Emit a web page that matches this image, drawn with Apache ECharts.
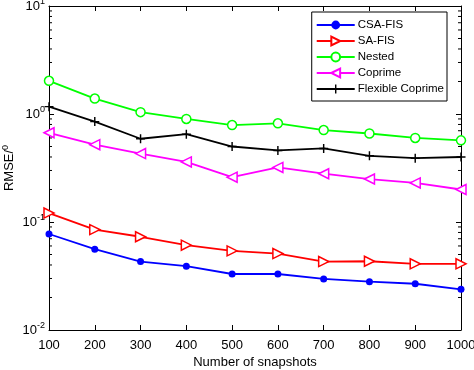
<!DOCTYPE html>
<html><head><meta charset="utf-8">
<script src="https://cdn.jsdelivr.net/npm/echarts@6/dist/echarts.min.js"></script>
<style>html,body{margin:0;padding:0;background:#fff}#c{width:474px;height:370px}</style>
</head><body><div id="c"></div>
<script>
var snapshots = [100,200,300,400,500,600,700,800,900,1000];
var csaFis = [0.0774,0.056,0.043,0.039,0.033,0.033,0.0297,0.028,0.0268,0.0238];
var saFis = [0.121,0.085,0.073,0.061,0.054,0.051,0.043,0.0433,0.041,0.041];
var nested = [2.03,1.39,1.04,0.90,0.79,0.82,0.71,0.66,0.60,0.57];
var coprime = [0.67,0.52,0.43,0.36,0.26,0.32,0.28,0.25,0.23,0.20];
var flexCoprime = [1.17,0.85,0.59,0.65,0.50,0.46,0.48,0.41,0.39,0.40];
var minorTickValues = [];
[0.01,0.1,1].forEach(function(d){for(var k=2;k<=9;k++)minorTickValues.push(+(d*k).toPrecision(3));});

function pairs(arr){return snapshots.map(function(x,i){return [x,arr[i]];});}
var font = 'Liberation Sans, Arial, sans-serif';
var chart = echarts.init(document.getElementById('c'));
function mk(name,data,color,symbol,size,rot,filled){
  return {name:name,type:'line',data:pairs(data),symbol:symbol,symbolSize:size,symbolRotate:rot||0,
    showAllSymbol:true,lineStyle:{color:color,width:1.8,type:'solid'},
    itemStyle:{color:filled?color:'#fff',borderColor:color,borderWidth:filled?0:1.5},
    z:3};
}
var plus='path://M4.2,0 H5.8 V4.2 H10 V5.8 H5.8 V10 H4.2 V5.8 H0 V4.2 H4.2 Z';
chart.setOption({
  animation:false,
  textStyle:{fontFamily:font},
  grid:{left:49,right:13,top:6,bottom:40,containLabel:false,outerBoundsMode:'none'},
  legend:{
    data:['CSA-FIS','SA-FIS','Nested','Coprime','Flexible Coprime'],
    orient:'vertical',right:27,top:12,itemWidth:38,itemHeight:11,itemGap:4,
    backgroundColor:'#fff',borderColor:'#000',borderWidth:1,borderRadius:0,padding:[7,3,6,4],
    textStyle:{fontSize:11.5,color:'#000',fontFamily:font,padding:[0,0,0,-2]}
  },
  xAxis:[{type:'value',min:100,max:1000,interval:100,
    name:'Number of snapshots',nameLocation:'middle',nameGap:26,nameMoveOverlap:false,
    nameTextStyle:{fontSize:13,color:'#000',fontFamily:font},
    axisLine:{lineStyle:{color:'#000',width:1}},
    axisTick:{inside:true,length:5,lineStyle:{color:'#000'}},
    axisLabel:{fontSize:13,color:'#000',margin:9,fontFamily:font,formatter:function(v){return String(v);}},
    splitLine:{show:false}},
   {type:'value',position:'top',min:100,max:1000,interval:100,
    axisLine:{lineStyle:{color:'#000'}},axisTick:{inside:true,length:5,lineStyle:{color:'#000'}},
    axisLabel:{show:false},splitLine:{show:false}}],
  yAxis:[{type:'log',logBase:10,min:0.01,max:10,
    name:'{a|RMSE/}{s|0}',nameLocation:'middle',nameGap:32,nameRotate:90,nameMoveOverlap:false,
    nameTextStyle:{fontSize:13,color:'#000',rich:{a:{fontSize:13,fontFamily:font,color:'#000'},s:{fontSize:9,fontFamily:font,color:'#000',padding:[0,0,7,0]}}},
    axisLine:{lineStyle:{color:'#000'}},
    axisTick:{inside:true,length:5,lineStyle:{color:'#000'}},
    axisLabel:{margin:4,formatter:function(v){var e=Math.round(Math.log10(v));return '{b|10}{s|'+e+'}';},
      rich:{b:{fontSize:13,color:'#000',fontFamily:font},s:{fontSize:9,color:'#000',fontFamily:font,padding:[0,0,9,0]}}},
    splitLine:{show:false}},
   {type:'log',logBase:10,min:0.01,max:10,position:'right',
    axisLine:{lineStyle:{color:'#000'}},axisTick:{inside:true,length:5,lineStyle:{color:'#000'}},
    axisLabel:{show:false},splitLine:{show:false}}],
  series:[
    mk('CSA-FIS',csaFis,'#0000ff','circle',7,0,true),
    mk('SA-FIS',saFis,'#ff0000','triangle',10,-90,false),
    mk('Nested',nested,'#00ff00','circle',9,0,false),
    mk('Coprime',coprime,'#ff00ff','triangle',10,90,false),
    mk('Flexible Coprime',flexCoprime,'#000000',plus,9,0,true),
    {type:'custom',silent:true,clip:false,z:1,
     data:minorTickValues.map(function(v){return [100,v];}),
     renderItem:function(params,api){
       var p=api.coord([100,api.value(1)]);var cs=params.coordSys;
       return {type:'group',children:[
         {type:'line',shape:{x1:cs.x,y1:p[1],x2:cs.x+3,y2:p[1]},style:{stroke:'#000',lineWidth:1}},
         {type:'line',shape:{x1:cs.x+cs.width,y1:p[1],x2:cs.x+cs.width-3,y2:p[1]},style:{stroke:'#000',lineWidth:1}}]};
     }}
  ]
});
</script></body></html>
